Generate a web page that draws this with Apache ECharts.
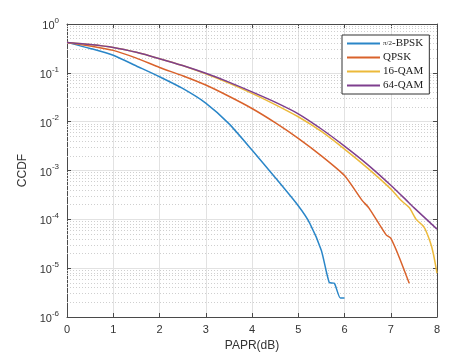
<!DOCTYPE html>
<html><head><meta charset="utf-8">
<script src="https://cdn.jsdelivr.net/npm/echarts@6/dist/echarts.min.js"></script>
<style>html,body{margin:0;padding:0;background:#fff}#c{width:474px;height:363px}</style>
</head><body><div id="c"></div>
<script>
const seriesNames = ['π/2-BPSK', 'QPSK', '16-QAM', '64-QAM'];
const seriesColors = ['#2a86c8', '#d9622b', '#ecb93a', '#7e3f8e'];

const bpskX = [0, 0.5, 1, 1.5, 2, 2.5, 3, 3.5, 4, 4.5, 5, 5.25, 5.5, 5.67, 5.78, 5.91, 6.0];
const bpskY = [0.42, 0.316, 0.229, 0.138, 0.0832, 0.0479, 0.024, 0.00912, 0.00263, 7.2e-4, 1.9e-4, 8.3e-5, 2.3e-5, 5.1e-6, 4.9e-6, 2.45e-6, 2.45e-6];

const qpskX = [0, 0.5, 1, 1.5, 2, 2.5, 3, 3.5, 4, 4.5, 5, 5.5, 6, 6.38, 6.53, 6.9, 7.0, 7.18, 7.4];
const qpskY = [0.42, 0.355, 0.288, 0.2, 0.129, 0.0871, 0.0562, 0.0331, 0.0186, 0.00955, 0.00457, 0.002, 7.9e-4, 2.45e-4, 1.7e-4, 4.8e-5, 4.1e-5, 1.7e-5, 4.9e-6];

const qam16X = [0, 0.5, 1, 1.5, 2, 2.5, 3, 3.5, 4, 4.5, 5, 5.5, 6, 6.5, 7, 7.22, 7.4, 7.55, 7.72, 7.85, 7.92, 8.0];
const qam16Y = [0.42, 0.38, 0.331, 0.263, 0.195, 0.141, 0.0955, 0.0617, 0.038, 0.0224, 0.0126, 0.00631, 0.00275, 0.00112, 4.2e-4, 2.45e-4, 1.74e-4, 1.0e-4, 6.9e-5, 3.5e-5, 2.0e-5, 7.9e-6];

const qam64X = [0, 0.5, 1, 1.5, 2, 2.5, 3, 3.5, 4, 4.5, 5, 5.5, 6, 6.5, 7, 7.33, 7.5, 8.0];
const qam64Y = [0.42, 0.38, 0.331, 0.263, 0.195, 0.141, 0.0977, 0.0646, 0.0407, 0.0251, 0.0145, 0.00708, 0.00316, 0.00132, 5.0e-4, 2.5e-4, 1.74e-4, 6.3e-5];

const xTickLabels = ['0', '1', '2', '3', '4', '5', '6', '7', '8'];
const yExponents = [0, -1, -2, -3, -4, -5, -6];

const seriesX = [bpskX, qpskX, qam16X, qam64X];
const seriesY = [bpskY, qpskY, qam16Y, qam64Y];

// minor (dotted) grid values inside each decade
const minorGrid = [];
for (let k = -6; k < 0; k++) for (let m = 2; m <= 9; m++) {
  const v = m * Math.pow(10, k);
  minorGrid.push([{ coord: [0, v] }, { coord: [8, v] }]);
}

const axisColor = '#4a4a4a';
const chart = echarts.init(document.getElementById('c'), null, { renderer: 'canvas' });

const series = seriesNames.map((name, i) => ({
  name: name,
  type: 'line',
  xAxisIndex: 0,
  yAxisIndex: 0,
  data: seriesX[i].map((x, j) => [x, seriesY[i][j]]),
  showSymbol: false,
  smooth: 0.2,
  lineStyle: { width: 1.5, color: seriesColors[i] },
  itemStyle: { color: seriesColors[i] },
  z: 5 + i,
  markLine: i === 0 ? {
    silent: true, symbol: 'none', label: { show: false },
    lineStyle: { type: [1, 2], color: '#cfcfcf', width: 1 },
    data: minorGrid, animation: false, z: 1
  } : undefined
}));

chart.setOption({
  animation: false,
  backgroundColor: '#fff',
  grid: { left: 67, right: 37, top: 24, bottom: 46 },
  legend: {
    orient: 'vertical',
    left: 342, top: 35,
    backgroundColor: '#fff',
    borderColor: '#333', borderWidth: 1,
    padding: [3, 6, 3, 5],
    itemWidth: 33, itemHeight: 2, itemGap: 3,
    icon: 'rect',
    data: seriesNames,
    formatter: n => n === 'π/2-BPSK' ? '{f|π/2}-BPSK' : n,
    textStyle: {
      fontFamily: 'Liberation Serif', fontSize: 11, color: '#222', padding: [0, 0, 0, -2],
      rich: { f: { fontFamily: 'Liberation Serif', fontSize: 7, color: '#222' } }
    }
  },
  xAxis: [{
    type: 'value', min: 0, max: 8, interval: 1,
    name: 'PAPR(dB)', nameLocation: 'middle', nameGap: 22,
    nameTextStyle: { fontFamily: 'Liberation Sans', fontSize: 12, color: '#333' },
    axisLine: { onZero: false, lineStyle: { color: axisColor, width: 1 } },
    axisTick: { inside: true, length: 4, lineStyle: { color: axisColor } },
    axisLabel: { margin: 7, fontFamily: 'Liberation Sans', fontSize: 11, color: '#333',
      formatter: v => xTickLabels[Math.round(v)] },
    splitLine: { show: true, lineStyle: { color: '#e2e2e2', width: 1 } }
  }, {
    type: 'value', min: 0, max: 8, interval: 1, position: 'top',
    axisLine: { onZero: false, lineStyle: { color: axisColor, width: 1 } },
    axisTick: { inside: true, length: 4, lineStyle: { color: axisColor } },
    axisLabel: { show: false }, splitLine: { show: false }
  }],
  yAxis: [{
    type: 'log', logBase: 10, min: 1e-6, max: 1,
    name: 'CCDF', nameLocation: 'middle', nameGap: 38,
    nameTextStyle: { fontFamily: 'Liberation Sans', fontSize: 12, color: '#333' },
    axisLine: { show: true, onZero: false, lineStyle: { color: axisColor, width: 1 } },
    axisTick: { show: true, inside: true, length: 4, lineStyle: { color: axisColor } },
    axisLabel: {
      margin: 8, fontFamily: 'Liberation Sans', color: '#333',
      formatter: v => {
        const e = Math.round(Math.log10(v));
        return yExponents.includes(e) ? '{b|10}{s|' + e + '}' : '';
      },
      rich: {
        b: { fontFamily: 'Liberation Sans', fontSize: 11, color: '#333', padding: [4, 0, 0, 0] },
        s: { fontFamily: 'Liberation Sans', fontSize: 8, color: '#333', verticalAlign: 'top', padding: [0, 0, 0, 0] }
      }
    },
    splitLine: { show: true, lineStyle: { color: '#e2e2e2', width: 1 } }
  }, {
    type: 'log', logBase: 10, min: 1e-6, max: 1, position: 'right',
    axisLine: { show: true, onZero: false, lineStyle: { color: axisColor, width: 1 } },
    axisTick: { show: true, inside: true, length: 4, lineStyle: { color: axisColor } },
    axisLabel: { show: false }, splitLine: { show: false }
  }],
  series: series
});
</script>
</body></html>
